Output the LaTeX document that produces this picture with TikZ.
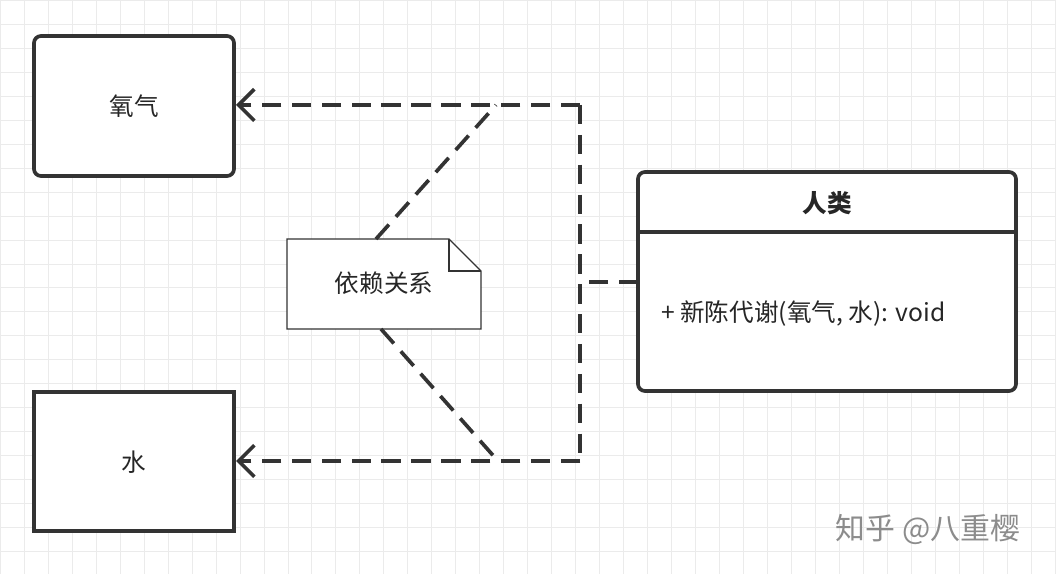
\documentclass[tikz,border=0pt]{standalone}
\usepackage{fontspec}
\setmainfont{Noto Sans CJK SC}
\usetikzlibrary{arrows.meta}
\begin{document}
\begin{tikzpicture}[x=0.02cm,y=-0.02cm,
  box/.style={draw=black!80,line width=2.1pt,fill=white},
  dep/.style={draw=black!80,line width=2.1pt,dash pattern=on 11pt off 6pt},
  lbl/.style={font=\fontsize{14}{16}\selectfont,text=black!85}]
\fill[white] (0,0) rectangle (1056,574);
\useasboundingbox (0,0) rectangle (1056,574);
\draw[black!8,line width=0.5pt,step=0.48cm] (0,0) grid (1056,574);
% boxes
\draw[box,rounded corners=4pt] (34,36) rectangle (234,176);
\node[lbl] (o2) at (134,106) {氧气};
\coordinate (o2e) at (236,105);
\draw[box] (34,392) rectangle (234,531);
\node[lbl] (h2o) at (134,462) {水};
\coordinate (h2oe) at (236,461);
\draw[box,rounded corners=4pt] (638,172) rectangle (1016,391);
\draw[black!80,line width=2.1pt] (638,232) -- (1016,232);
\node[lbl,font=\fontsize{14}{16}\selectfont\bfseries] (human) at (827,203) {人类};
\node[lbl,anchor=west] (meth) at (655,313) {+ 新陈代谢(氧气, 水): void};
\coordinate (he) at (638,282);
% note
\draw[black!80,line width=0.8pt,fill=white] (287,239) -- (449,239) -- (481,271) -- (481,329) -- (287,329) -- cycle;
\draw[black!80,line width=0.8pt] (449,239) -- (449,271) -- (481,271);
\node[lbl] (note) at (384,283) {依赖关系};
% connectors
\coordinate (j1) at (580,282);
\coordinate (t1) at (580,105);
\coordinate (b1) at (580,461);
\draw[dep] (he) -- (j1);
\draw[dep] (t1) -- (b1);
\draw[dep,-{Straight Barb[length=9pt,width=18pt,line width=2.1pt]}] (t1) -- (o2e);
\draw[dep,-{Straight Barb[length=9pt,width=18pt,line width=2.1pt]}] (b1) -- (h2oe);
\draw[dep] (376,239) -- (496,105);
\draw[dep] (381,329) -- (498,461);
\node[font=\fontsize{17}{19}\selectfont,text=black!45] (wm) at (928,530) {知乎 @八重樱};
\end{tikzpicture}
\end{document}
